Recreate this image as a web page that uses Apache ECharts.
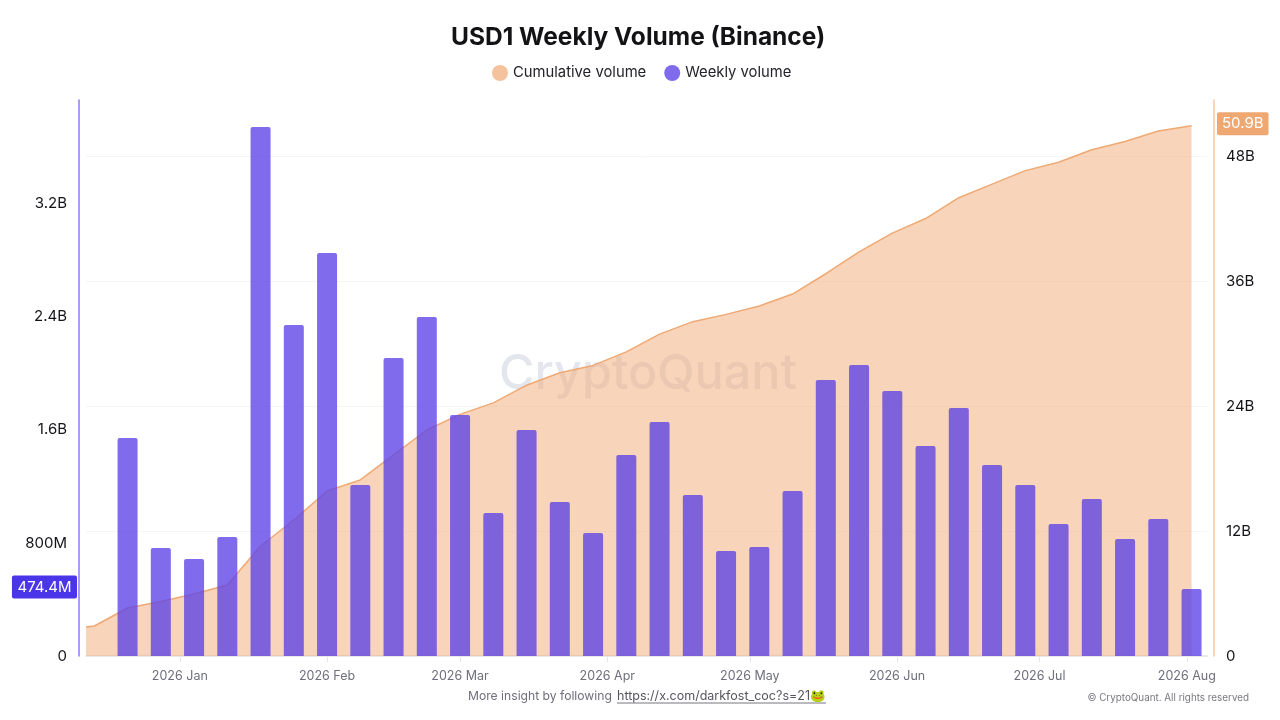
<!DOCTYPE html>
<html>
<head>
<meta charset="utf-8">
<style>html,body{margin:0;padding:0;background:#fff}#c{width:1280px;height:720px}</style>
<script src="https://cdn.jsdelivr.net/npm/echarts@6/dist/echarts.min.js"></script>
</head>
<body>
<div id="c"></div>
<script>
const FONT = 'Inter, "Noto Sans", sans-serif';
const weekDates = ['2025-12-21','2025-12-28','2026-01-04','2026-01-11','2026-01-18','2026-01-25','2026-02-01','2026-02-08','2026-02-15','2026-02-22','2026-03-01','2026-03-08','2026-03-15','2026-03-22','2026-03-29','2026-04-05','2026-04-12','2026-04-19','2026-04-26','2026-05-03','2026-05-10','2026-05-17','2026-05-24','2026-05-31','2026-06-07','2026-06-14','2026-06-21','2026-06-28','2026-07-05','2026-07-12','2026-07-19','2026-07-26','2026-08-02'];
const earlyDates = ['2025-12-12 06:00','2025-12-14'];
const earlyCumulative = [2.78,2.88];
const cumulativeB = [4.61,5.23,5.95,6.82,10.56,13.06,15.84,16.9,19.3,21.7,23.2,24.3,26.0,27.2,27.9,29.2,30.9,32.1,32.8,33.6,34.75,36.7,38.8,40.6,42.0,44.0,45.3,46.6,47.4,48.6,49.4,50.4,50.9];
const weeklyB = [1.543,0.765,0.687,0.842,3.745,2.343,2.853,1.211,2.110,2.400,1.706,1.012,1.600,1.090,0.871,1.423,1.657,1.140,0.743,0.772,1.168,1.954,2.060,1.876,1.487,1.756,1.352,1.211,0.935,1.112,0.828,0.970,0.4744];
const MONTHS = ['Jan','Feb','Mar','Apr','May','Jun','Jul','Aug','Sep','Oct','Nov','Dec'];

const cumData = earlyDates.map((d,i)=>[d,earlyCumulative[i]*1e9]).concat(weekDates.map((d,i)=>[d,cumulativeB[i]*1e9]));
const weekData = weekDates.map((d,i)=>[d,weeklyB[i]*1e9]);

const chart = echarts.init(document.getElementById('c'), null, {renderer:'canvas'});
chart.setOption({
  animation:false,
  textStyle:{fontFamily:FONT},
  title:{text:'USD1 Weekly Volume (Binance)',left:446,top:20,
    textStyle:{fontFamily:FONT,fontSize:24.5,fontWeight:700,color:'#131316'}},
  legend:{top:60,left:487,icon:'circle',itemWidth:16,itemHeight:16,itemGap:18,
    textStyle:{fontFamily:FONT,fontSize:14.8,color:'#23232b'},
    data:['Cumulative volume','Weekly volume']},
  grid:{left:86,right:73,top:100,bottom:64,containLabel:false},
  xAxis:{type:'time',min:'2025-12-14 08:30',max:'2026-08-03 03:30',
    minInterval:28*864e5,maxInterval:31*864e5,
    axisLine:{lineStyle:{color:'#dfdfe6',width:1.5}},
    axisTick:{show:true,length:6,lineStyle:{color:'#e4e4ea'}},
    splitLine:{show:false},
    axisLabel:{fontFamily:FONT,fontSize:12.5,color:'#6f6f7d',margin:14,hideOverlap:false,showMinLabel:false,showMaxLabel:false,
      formatter:function(v){const d=new Date(v);return d.getDate()===1?d.getFullYear()+' '+MONTHS[d.getMonth()]:'';}}},
  yAxis:[
    {type:'value',position:'left',offset:7,min:0,max:3.936e9,interval:0.8e9,
      axisLine:{show:true,lineStyle:{color:'#8c7bf0',width:1.5}},axisTick:{show:false},splitLine:{show:false},
      axisLabel:{fontFamily:FONT,fontSize:15,color:'#141418',margin:12,showMaxLabel:false,padding:[2,0,0,0],
        formatter:function(v){return v===0?'0':(v>=1e9?(v/1e9).toFixed(1)+'B':(v/1e6)+'M');}}},
    {type:'value',position:'right',offset:7,min:0,max:53.38e9,interval:12e9,
      axisLine:{show:true,lineStyle:{color:'#f6c9a8',width:1.5}},axisTick:{show:false},
      splitLine:{show:true,showMaxLine:false,showMinLine:false,lineStyle:{color:'#f5f5f7',width:1}},
      axisLabel:{fontFamily:FONT,fontSize:15,color:'#141418',margin:12,showMaxLabel:false,
        formatter:function(v){return v===0?'0':(v/1e9)+'B';}}}
  ],
  series:[
    {name:'Cumulative volume',type:'line',yAxisIndex:1,z:2,data:cumData,showSymbol:false,smooth:false,
      itemStyle:{color:'#f4c39e'},
      lineStyle:{color:'#f0a973',width:1.5},
      areaStyle:{color:'rgba(240,170,118,0.5)',opacity:1},
      markLine:{silent:true,symbol:'none',lineStyle:{color:'transparent',width:0},
        data:[{yAxis:50.9e9,label:{show:true,formatter:'50.9B',position:'end',distance:10,offset:[0,-2],fontFamily:FONT,fontSize:15,color:'#fff',backgroundColor:'#f0a873',padding:[4,5,4,5],borderRadius:2}}]}},
    {name:'Weekly volume',type:'bar',yAxisIndex:0,z:3,data:weekData,barWidth:20,
      itemStyle:{color:'rgba(95,70,230,0.8)',borderRadius:[2,2,0,0]},
      markLine:{silent:true,symbol:'none',lineStyle:{color:'transparent',width:0},
        data:[{yAxis:474.4e6,label:{show:true,formatter:'474.4M',position:'start',distance:9,offset:[0,-2],fontFamily:FONT,fontSize:15,color:'#fff',backgroundColor:'#4a35e8',padding:[4,5.5,4,5.5],borderRadius:2}}]}}
  ],
  graphic:[
    {type:'text',left:499,top:350,z:1,silent:true,style:{text:'CryptoQuant',font:'500 48.5px '+FONT,fill:'rgba(120,130,165,0.2)'}},
    {type:'text',left:468,top:690,style:{text:'More insight by following',font:'12.15px '+FONT,fill:'#6f6f7d'}},
    {type:'text',left:617,top:690,style:{text:'https://x.com/darkfost_coc?s=21🐸',font:'12.5px '+FONT+', "Noto Color Emoji"',fill:'#55555f'}},
    {type:'line',shape:{x1:617,y1:703,x2:826,y2:703},style:{stroke:'#77777f',lineWidth:1}},
    {type:'text',right:31,top:693,style:{text:'© CryptoQuant. All rights reserved',font:'9.85px '+FONT,fill:'#77777f'}}
  ]
});
</script>
</body>
</html>
